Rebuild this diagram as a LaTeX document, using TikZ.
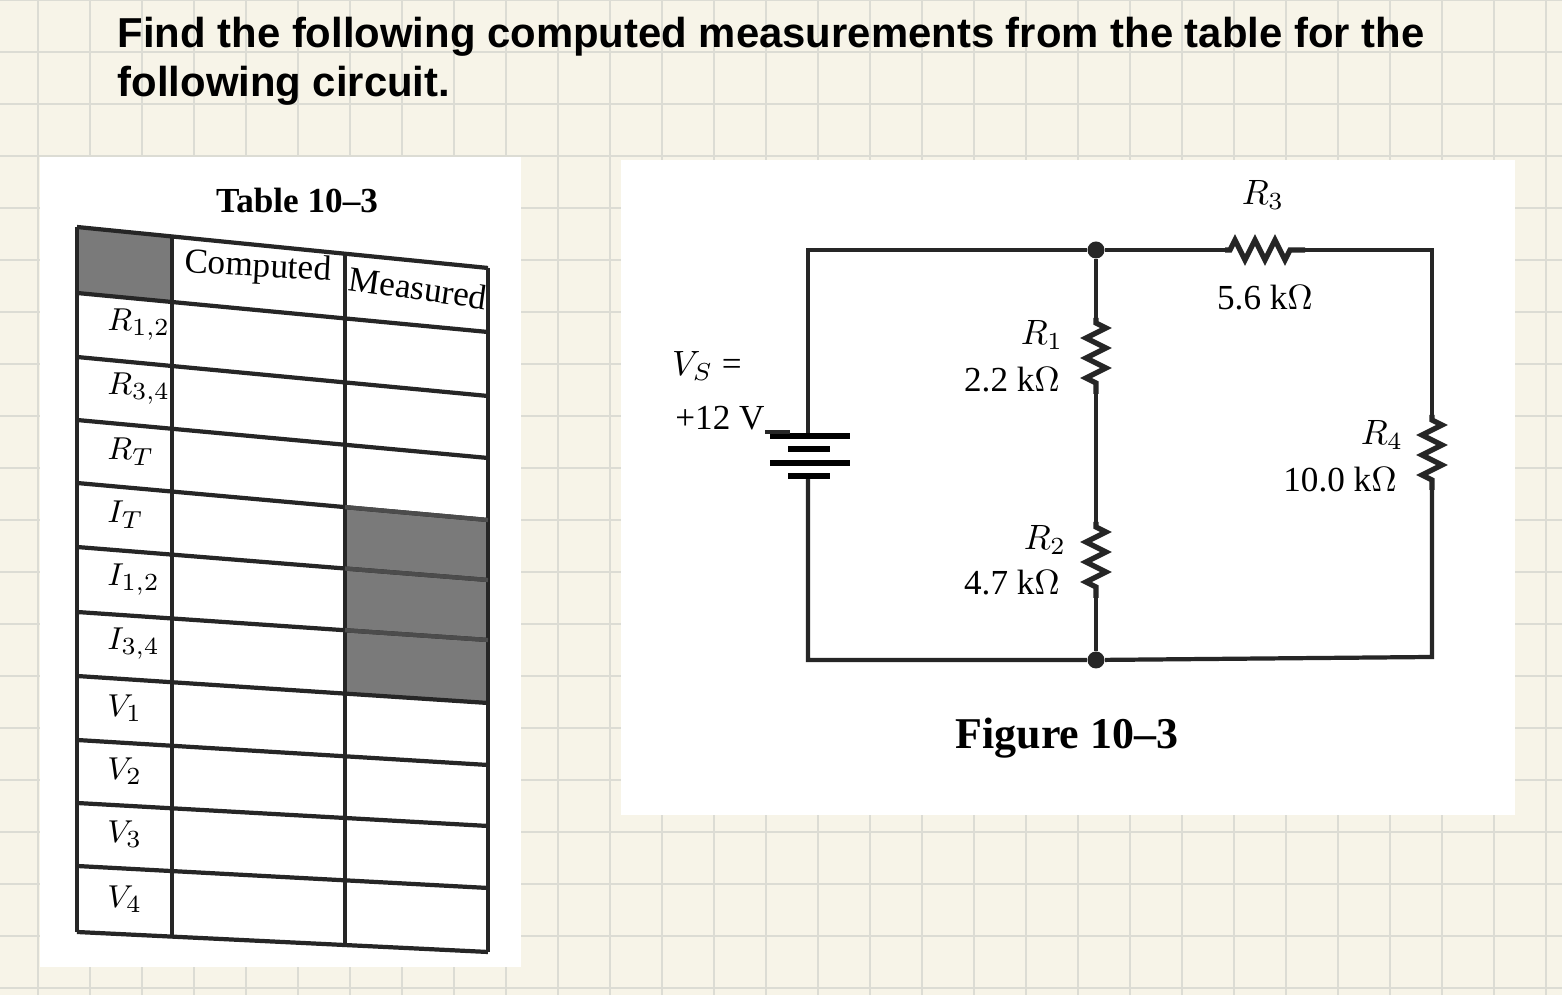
\documentclass[tikz,border=0pt]{standalone}
\usepackage{fontspec}
\setmainfont{Liberation Serif}
\newfontfamily\titlefont{Liberation Sans}
\usetikzlibrary{calc,decorations.pathmorphing}
\definecolor{cream}{HTML}{F7F4E8}
\definecolor{gridc}{HTML}{DCDCD4}
\definecolor{cellg}{HTML}{7A7A7A}
\tikzset{
 wire/.style={line width=1.2pt,black!85},
 tline/.style={line width=1.2pt,black!85},
 res/.style={wire,line width=1.5pt,decorate,decoration={zigzag,amplitude=0.1cm,segment length=0.2cm,pre length=0.05cm,post length=0.05cm}},
 lab/.style={font=\fontsize{10}{12}\selectfont},
 rowlab/.style={font=\fontsize{9.5}{11}\selectfont\itshape},
 dotn/.style={circle,fill=black!85,inner sep=0pt,minimum size=0.17cm}
}
\begin{document}
\begin{tikzpicture}[x=0.01cm,y=-0.01cm]
\useasboundingbox (0,0) rectangle (1562,995);
\fill[cream] (0,0) rectangle (1562,995);
\foreach \x in {38,90,...,1562} \draw[gridc,line width=0.5pt] (\x,0)--(\x,995);
\foreach \y in {0,52,...,995} \draw[gridc,line width=0.5pt] (0,\y)--(1562,\y);
\node[anchor=north west,align=left,font=\titlefont\bfseries\fontsize{11.9}{14}\selectfont,inner sep=0pt] (title) at (117,16) {Find the following computed measurements from the table for the\\following circuit.};
\fill[white] (40,157) rectangle (521,967);
\fill[white] (621,160) rectangle (1515,815);
% table
\node[font=\bfseries\fontsize{10}{12}\selectfont] (tt) at (297,200) {Table 10--3};
\foreach \i/\l/\r in {0/227/268,1/293/332,2/357/396,3/420/458,4/483/520,5/547/580,6/612/640,7/676/703,8/740/765,9/803/826,10/866/888,11/932/952}{
  \coordinate (L\i) at (77,\l); \coordinate (R\i) at (488,\r);
  \coordinate (A\i) at ($(L\i)!0.231!(R\i)$);
  \coordinate (B\i) at ($(L\i)!0.652!(R\i)$);
}
\fill[cellg] (L0)--(A0)--(A1)--(L1)--cycle;
\fill[cellg] (B4)--(R4)--(R7)--(B7)--cycle;
\foreach \i in {0,...,11} \draw[tline] (L\i)--(R\i);
\draw[tline] (L0)--(L11); \draw[tline] (R0)--(R11);
\draw[tline] (A0)--(A11); \draw[tline] (B0)--(B11);
\foreach \i in {4,5,6} \draw[tline,black!70] (B\i)--(R\i);
\node[lab,rotate=-3] (hc) at (258,268) {Computed};
\node[lab,rotate=-8] (hm) at (418,288) {Measured};
\foreach \j/\t in {1/R_{1,2},2/R_{3,4},3/R_T,4/I_T,5/I_{1,2},6/I_{3,4},7/V_1,8/V_2,9/V_3,10/V_4}{
  \pgfmathtruncatemacro\k{\j+1}
  \node[rowlab,anchor=west] (rl\j) at ($(L\j)!0.5!(L\k)+(18,0)$) {$\fontsize{11}{12}\selectfont \t$};
}
% circuit
\coordinate (tl) at (808,250); \coordinate (tr) at (1432,250);
\coordinate (bl) at (808,660); \coordinate (br) at (1432,657);
\node[dotn] (nt) at (1096,250) {};
\node[dotn] (nb) at (1096,660) {};
\coordinate (r3a) at (1225,250); \coordinate (r3b) at (1305,250);
\coordinate (r1a) at (1096,318); \coordinate (r1b) at (1096,394);
\coordinate (r2a) at (1096,522); \coordinate (r2b) at (1096,598);
\coordinate (r4a) at (1432,415); \coordinate (r4b) at (1432,490);
\coordinate (bt) at (808,436); \coordinate (bb) at (808,476);
\draw[wire] (bt)--(tl)--(nt)--(r3a); \draw[res] (r3a)--(r3b); \draw[wire] (r3b)--(tr)--(r4a);
\draw[res] (r4a)--(r4b); \draw[wire] (r4b)--(br)--(nb)--(bl)--(bb);
\draw[wire] (nt)--(r1a); \draw[res] (r1a)--(r1b); \draw[wire] (r1b)--(r2a);
\draw[res] (r2a)--(r2b); \draw[wire] (r2b)--(nb);
\draw[line width=1.8pt] (770,436)--(850,436);
\draw[line width=1.8pt] (788,449)--(830,449);
\draw[line width=1.8pt] (770,463)--(850,463);
\draw[line width=1.8pt] (788,476)--(830,476);
\node[lab] (lr3) at (1263,195) {$R_3$};
\node[lab] (vr3) at (1265,298) {5.6 k$\Omega$};
\node[lab] (lr1) at (1042,335) {$R_1$};
\node[lab] (vr1) at (1012,380) {2.2 k$\Omega$};
\node[lab] (lr2) at (1045,540) {$R_2$};
\node[lab] (vr2) at (1012,583) {4.7 k$\Omega$};
\node[lab] (lr4) at (1382,435) {$R_4$};
\node[lab] (vr4) at (1340,480) {10.0 k$\Omega$};
\node[lab] (vs) at (707,366) {$V_S$ =};
\node[lab] (v12) at (720,418) {+12 V};
\draw[wire,line width=1pt] (765,432)--(790,432);
\node[font=\bfseries\fontsize{12.5}{14}\selectfont] (fig) at (1067,738) {Figure 10--3};
\end{tikzpicture}
\end{document}
